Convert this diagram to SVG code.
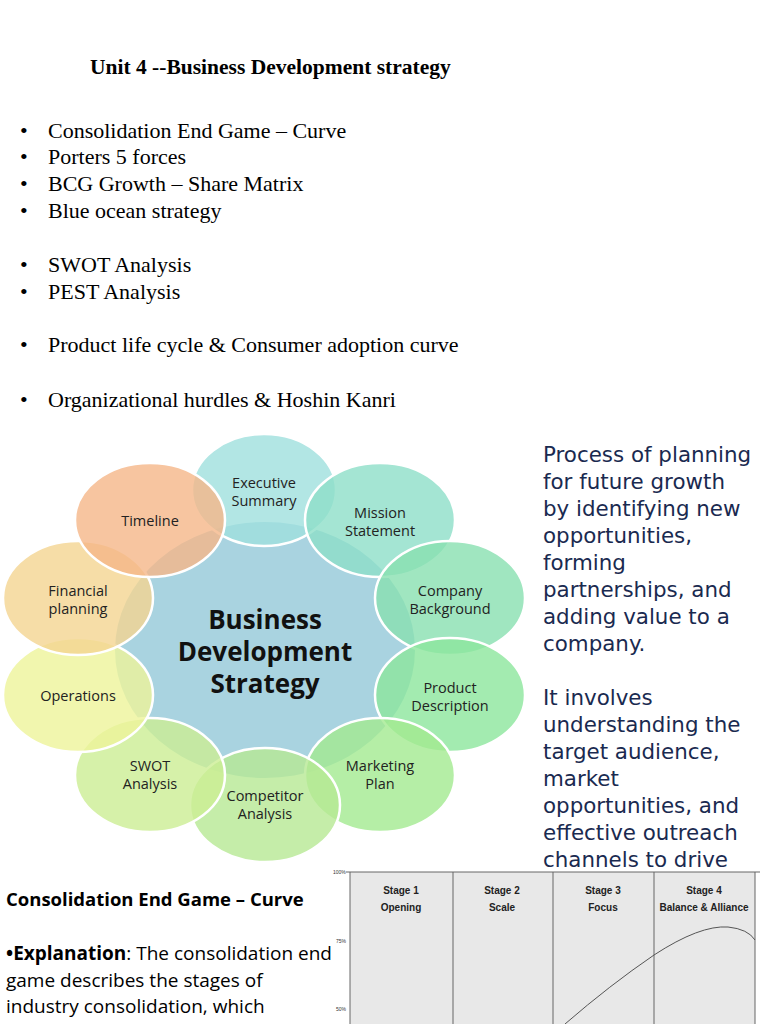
<svg xmlns="http://www.w3.org/2000/svg" width="768" height="1024" viewBox="0 0 768 1024">
<style>
.ser{font-family:"Liberation Serif",serif;font-size:22px;fill:#000}
.ds{font-family:"DejaVu Sans",sans-serif;font-size:21.4px;fill:#1a2a50}
.lb{font-family:"Open Sans","DejaVu Sans",sans-serif;font-size:14.5px;fill:#222;text-anchor:middle}
.big{font-family:"Open Sans","DejaVu Sans",sans-serif;font-size:26px;font-weight:bold;fill:#111;text-anchor:middle}
.ch{font-family:"Liberation Sans Narrow","Liberation Sans",sans-serif;font-size:10px;fill:#222;text-anchor:middle;font-weight:bold}
.ax{font-family:"Liberation Sans",sans-serif;font-size:5px;fill:#333}
.c{stroke:#fff;stroke-width:2.5;fill-opacity:0.8}
.cal{font-family:"Open Sans","DejaVu Sans",sans-serif;font-size:19px;fill:#000}
</style>
<rect width="768" height="1024" fill="#fff"/>
<text x="90" y="74" class="ser" font-weight="bold" style="font-size:21.5px">Unit 4 --Business Development strategy</text>
<g class="ser">
<text x="20" y="138">•</text><text x="48" y="138">Consolidation End Game – Curve</text>
<text x="20" y="164">•</text><text x="48" y="164">Porters 5 forces</text>
<text x="20" y="191">•</text><text x="48" y="191">BCG Growth – Share Matrix</text>
<text x="20" y="218">•</text><text x="48" y="218">Blue ocean strategy</text>
<text x="20" y="272">•</text><text x="48" y="272">SWOT Analysis</text>
<text x="20" y="299">•</text><text x="48" y="299">PEST Analysis</text>
<text x="20" y="352">•</text><text x="48" y="352">Product life cycle &amp; Consumer adoption curve</text>
<text x="20" y="407">•</text><text x="48" y="407">Organizational hurdles &amp; Hoshin Kanri</text>
</g>
<g id="center"><ellipse cx="265" cy="650" rx="150" ry="128" fill="#a9d3e0"/>
<text x="265" y="629" class="big">Business</text>
<text x="265" y="661" class="big">Development</text>
<text x="265" y="693" class="big">Strategy</text></g>
<g id="exec"><ellipse class="c" cx="264" cy="490" rx="72" ry="56" fill="#9fe0dd"/><text x="264" y="488" class="lb">Executive</text><text x="264" y="506" class="lb">Summary</text></g>
<g id="mission"><ellipse class="c" cx="380" cy="520" rx="75" ry="57" fill="#8ddfc8"/><text x="380" y="518" class="lb">Mission</text><text x="380" y="536" class="lb">Statement</text></g>
<g id="company"><ellipse class="c" cx="450" cy="598" rx="75" ry="57" fill="#88e0b0"/><text x="450" y="596" class="lb">Company</text><text x="450" y="614" class="lb">Background</text></g>
<g id="product"><ellipse class="c" cx="450" cy="695" rx="75" ry="57" fill="#8ce69c"/><text x="450" y="693" class="lb">Product</text><text x="450" y="711" class="lb">Description</text></g>
<g id="marketing"><ellipse class="c" cx="380" cy="775" rx="75" ry="57" fill="#a2ea90"/><text x="380" y="771" class="lb">Marketing</text><text x="380" y="789" class="lb">Plan</text></g>
<g id="competitor"><ellipse class="c" cx="265" cy="805" rx="75" ry="57" fill="#b6e993"/><text x="265" y="801" class="lb">Competitor</text><text x="265" y="819" class="lb">Analysis</text></g>
<g id="swot"><ellipse class="c" cx="150" cy="775" rx="75" ry="57" fill="#cced94"/><text x="150" y="771" class="lb">SWOT</text><text x="150" y="789" class="lb">Analysis</text></g>
<g id="operations"><ellipse class="c" cx="78" cy="695" rx="75" ry="57" fill="#eef49a"/><text x="78" y="701" class="lb">Operations</text></g>
<g id="financial"><ellipse class="c" cx="78" cy="598" rx="75" ry="57" fill="#f4d591"/><text x="78" y="596" class="lb">Financial</text><text x="78" y="614" class="lb">planning</text></g>
<g id="timeline"><ellipse class="c" cx="150" cy="520" rx="75" ry="57" fill="#f5b688"/><text x="150" y="526" class="lb">Timeline</text></g>
<g class="ds">
<text x="543" y="462">Process of planning</text>
<text x="543" y="489">for future growth</text>
<text x="543" y="516">by identifying new</text>
<text x="543" y="543">opportunities,</text>
<text x="543" y="570">forming</text>
<text x="543" y="597">partnerships, and</text>
<text x="543" y="624">adding value to a</text>
<text x="543" y="651">company.</text>
<text x="543" y="705">It involves</text>
<text x="543" y="732">understanding the</text>
<text x="543" y="759">target audience,</text>
<text x="543" y="786">market</text>
<text x="543" y="813">opportunities, and</text>
<text x="543" y="840">effective outreach</text>
<text x="543" y="867">channels to drive</text>
</g>
<text x="6" y="906" class="cal" style="font-size:18.5px" font-weight="bold">Consolidation End Game – Curve</text>
<text x="6" y="960" class="cal"><tspan font-weight="bold">•Explanation</tspan>: The consolidation end</text>
<text x="6" y="987" class="cal">game describes the stages of</text>
<text x="6" y="1013" class="cal">industry consolidation, which</text>
<g id="chart">
<rect x="350" y="872" width="405" height="152" fill="#e8e8e8"/>
<g stroke="#666" stroke-width="1"><line x1="350" y1="872" x2="350" y2="1024"/><line x1="453" y1="872" x2="453" y2="1024"/><line x1="553" y1="872" x2="553" y2="1024"/><line x1="654" y1="872" x2="654" y2="1024"/><line x1="755" y1="872" x2="755" y2="1024"/><line x1="346" y1="872" x2="760" y2="872"/></g>
<text x="333" y="874" class="ax">100%</text><text x="336" y="943" class="ax">75%</text><text x="336" y="1011" class="ax">50%</text>
<text x="401" y="894" class="ch">Stage 1</text><text x="401" y="911" class="ch">Opening</text>
<text x="502" y="894" class="ch">Stage 2</text><text x="502" y="911" class="ch">Scale</text>
<text x="603" y="894" class="ch">Stage 3</text><text x="603" y="911" class="ch">Focus</text>
<text x="704" y="894" class="ch">Stage 4</text><text x="704" y="911" class="ch">Balance &amp; Alliance</text>
<path d="M565 1024 Q610 985 654 955 Q700 925 728 927 Q748 929 755 940" fill="none" stroke="#555" stroke-width="1"/>
</g>
</svg>
